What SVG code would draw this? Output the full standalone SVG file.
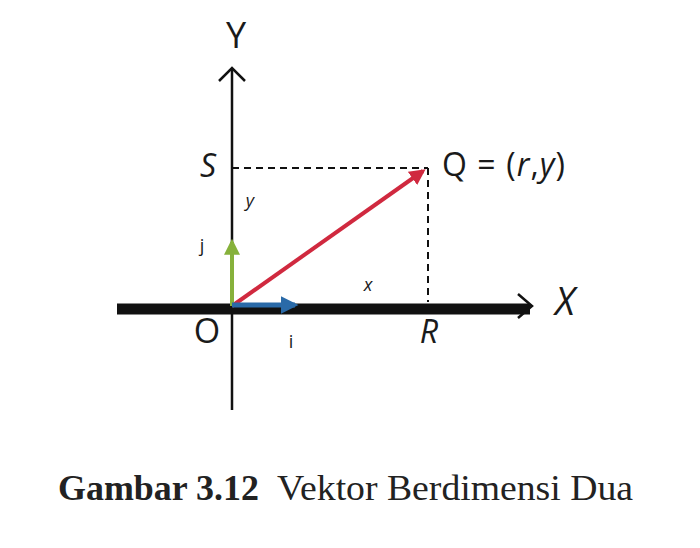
<svg xmlns="http://www.w3.org/2000/svg" width="700" height="548" viewBox="0 0 700 548">
<style>
.lbl{font-family:"Open Sans","Liberation Sans",sans-serif;fill:#1a1a1a}
.it{font-style:italic}
.axis{stroke:#111;fill:none}
.dash{stroke:#111;stroke-width:2;stroke-dasharray:7,5;fill:none}
.cap{font-family:"Liberation Serif",serif;font-size:35px;fill:#222}
</style>
<defs>
<marker id="ah-red" viewBox="0 0 10 10" refX="8" refY="5" markerWidth="4" markerHeight="4" orient="auto" markerUnits="strokeWidth"><path d="M0,0 L10,5 L0,10 z" fill="#d0293f"/></marker>
<marker id="ah-green" viewBox="0 0 10 10" refX="8" refY="5" markerWidth="4" markerHeight="4" orient="auto" markerUnits="strokeWidth"><path d="M0,0 L10,5 L0,10 z" fill="#86b13b"/></marker>
<marker id="ah-blue" viewBox="0 0 10 10" refX="8" refY="5" markerWidth="3.5" markerHeight="3.5" orient="auto" markerUnits="strokeWidth"><path d="M0,0 L10,5 L0,10 z" fill="#2a6aa8"/></marker>
</defs>
<rect width="700" height="548" fill="#fff"/>
<g id="connectors">
<g id="y-axis">
<line class="axis" x1="232" y1="69" x2="232" y2="410" stroke-width="2.5"/>
<polyline class="axis" points="219,81 232,68 245,81" stroke-width="2.5"/>
</g>
<g id="x-axis">
<line class="axis" x1="117" y1="309" x2="530" y2="309" stroke-width="11"/>
<polyline class="axis" points="518,294 532,306 518,318" stroke-width="2.5"/>
</g>
<line class="dash" x1="232" y1="168" x2="428" y2="168"/>
<line class="dash" x1="428" y1="168" x2="428" y2="302"/>
<line id="vec-r" x1="232" y1="306" x2="423" y2="171" stroke="#d0293f" stroke-width="4" marker-end="url(#ah-red)"/>
<line id="vec-j" x1="232" y1="306" x2="232" y2="242" stroke="#86b13b" stroke-width="4" marker-end="url(#ah-green)"/>
<line id="vec-i" x1="232" y1="305" x2="295" y2="305" stroke="#2a6aa8" stroke-width="5" marker-end="url(#ah-blue)"/>
</g>
<g id="label-Y"><text class="lbl" x="236" y="48" font-size="36" text-anchor="middle">Y</text></g>
<g id="label-X"><text class="lbl it" x="565" y="315" font-size="38" text-anchor="middle">X</text></g>
<g id="label-S"><text class="lbl it" x="208" y="177" font-size="32" text-anchor="middle">S</text></g>
<g id="label-Q"><text class="lbl" x="442" y="176" font-size="32" textLength="123">Q = (<tspan class="it">r</tspan>,<tspan class="it">y</tspan>)</text></g>
<g id="label-O"><text class="lbl" x="207" y="343" font-size="34" text-anchor="middle">O</text></g>
<g id="label-R"><text class="lbl it" x="429" y="343" font-size="32" text-anchor="middle">R</text></g>
<g id="label-y"><text class="lbl it" x="250" y="207" font-size="18" text-anchor="middle">y</text></g>
<g id="label-x"><text class="lbl it" x="368" y="291" font-size="18" text-anchor="middle">x</text></g>
<g id="label-j"><text class="lbl" x="202" y="252" font-size="18" text-anchor="middle">j</text></g>
<g id="label-i"><text class="lbl" x="291" y="348" font-size="18" text-anchor="middle">i</text></g>
<g id="caption"><text class="cap" y="500"><tspan x="58" font-weight="bold" font-size="36" textLength="201" lengthAdjust="spacingAndGlyphs">Gambar 3.12</tspan><tspan x="277" textLength="356" lengthAdjust="spacingAndGlyphs">Vektor Berdimensi Dua</tspan></text></g>
</svg>
